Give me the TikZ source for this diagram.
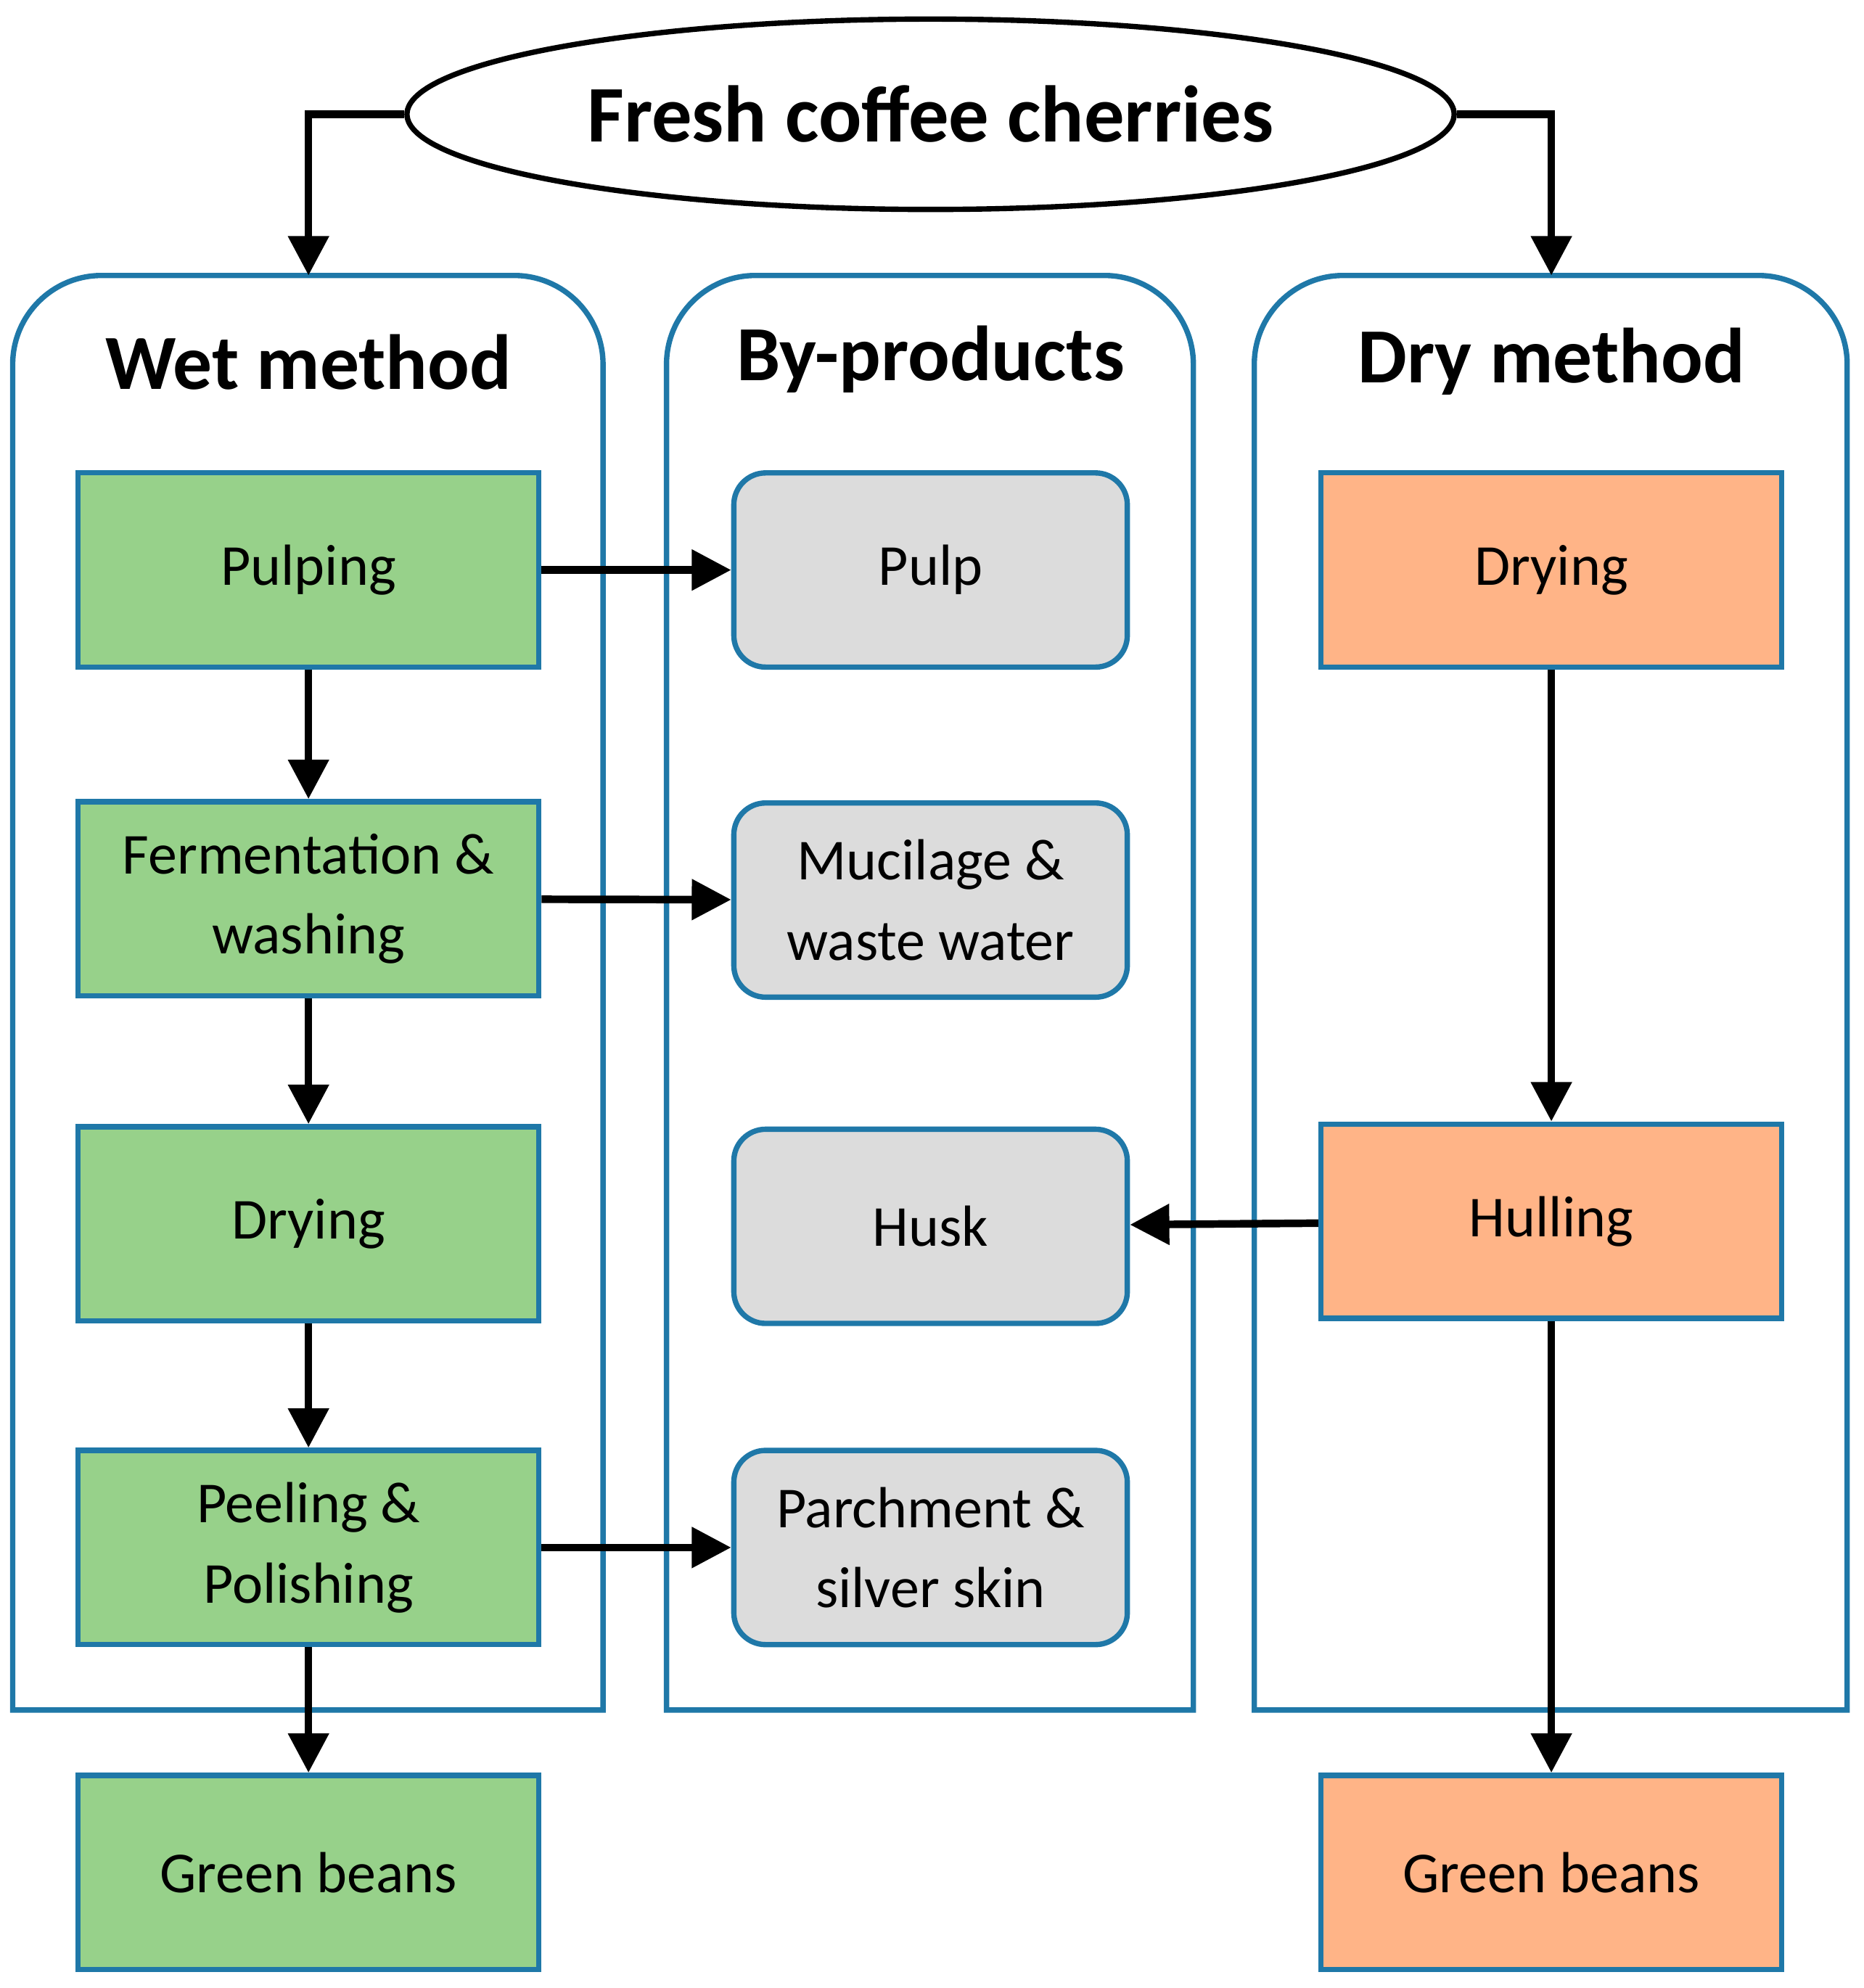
\documentclass[tikz,border=0pt]{standalone}
\usepackage{fontspec}
\setmainfont{Carlito}
\usetikzlibrary{arrows.meta,shapes.geometric}
\definecolor{bl}{HTML}{1F78A8}
\definecolor{gr}{HTML}{97D18A}
\definecolor{og}{HTML}{FFB487}
\definecolor{gy}{HTML}{DCDCDC}
\begin{document}
\begin{tikzpicture}[x=0.02cm,y=-0.02cm,
 panel/.style={draw=bl,line width=2.4pt},
 head/.style={font=\fontsize{35}{42}\selectfont\bfseries},
 box/.style={draw=bl,line width=2.4pt,minimum width=7.26cm,minimum height=3.06cm,align=center,font=\fontsize{26}{36}\selectfont,inner sep=0pt},
 wet/.style={box,fill=gr},
 dry/.style={box,fill=og},
 by/.style={box,fill=gy,rounded corners=0.5cm,minimum width=6.2cm},
 arr/.style={line width=3.4pt,-{Triangle[length=0.62cm,width=0.62cm]}}]
\useasboundingbox (0,0) rectangle (1468,1566);
\node[draw,line width=2.4pt,ellipse,minimum width=16.5cm,minimum height=3cm,font=\fontsize{36}{40}\selectfont\bfseries] (e) at (733,90) {Fresh coffee cherries};
\foreach \a/\b in {10/475,525/940,988/1455}
 \draw[panel] (\a,1347) [rounded corners=1.4cm] -- (\a,217) -- (\b,217) [sharp corners] -- (\b,1347) -- cycle;
\node[head] (h1) at (243,285) {Wet method};
\node[head] (h2) at (733,283) {By-products};
\node[head] (h3) at (1222,285) {Dry method};
\coordinate (t1) at (243,217);
\coordinate (t3) at (1222,217);
\node[wet] (w1) at (243,449) {Pulping};
\node[wet] (w2) at (243,708) {Fermentation \&\\washing};
\node[wet] (w3) at (243,964) {Drying};
\node[wet] (w4) at (243,1219) {Peeling \&\\Polishing};
\node[wet] (w5) at (243,1475) {Green beans};
\node[by] (b1) at (733,449) {Pulp};
\node[by] (b2) at (733,709) {Mucilage \&\\waste water};
\node[by] (b3) at (733,966) {Husk};
\node[by] (b4) at (733,1219) {Parchment \&\\silver skin};
\node[dry] (d1) at (1222,449) {Drying};
\node[dry] (d2) at (1222,962) {Hulling};
\node[dry] (d3) at (1222,1475) {Green beans};
\draw[arr] (e.west) -| (t1);
\draw[arr] (e.east) -| (t3);
\draw[arr] (w1) -- (w2);
\draw[arr] (w2) -- (w3);
\draw[arr] (w3) -- (w4);
\draw[arr] (w4) -- (w5);
\draw[arr] (w1) -- (b1);
\draw[arr] (w2) -- (b2);
\draw[arr] (w4) -- (b4);
\draw[arr] (d1) -- (d2);
\draw[arr] (d2) -- (d3);
\draw[arr] (d2) -- (b3);
\end{tikzpicture}
\end{document}
